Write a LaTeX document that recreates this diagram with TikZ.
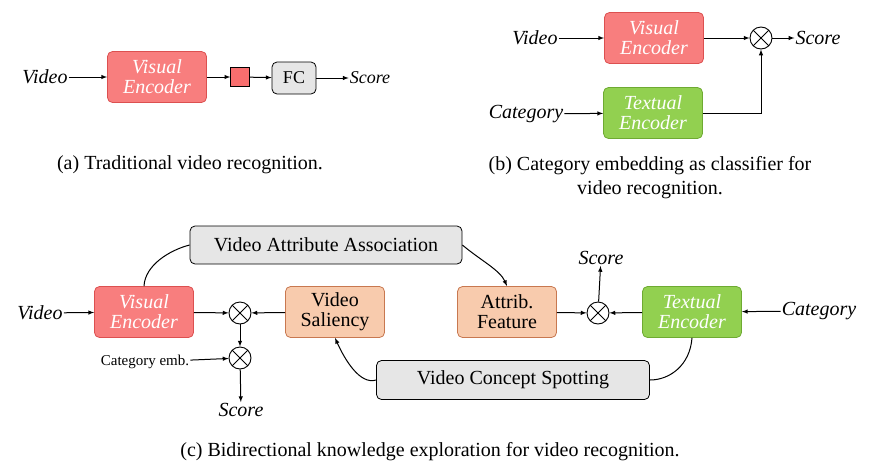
\documentclass[tikz,border=0pt]{standalone}
\usepackage{fontspec}
\setmainfont{Liberation Serif}
\begin{document}
\begin{tikzpicture}[x=1pt,y=-1pt,>=latex,
  box/.style={draw,rounded corners=5pt,line width=0.8pt,minimum width=99pt,minimum height=51pt,align=center,inner sep=1pt,font=\fontsize{20}{20}\selectfont\itshape},
  red/.style={box,fill={rgb,255:red,248;green,126;blue,126},draw={rgb,255:red,220;green,80;blue,80},text=white},
  grn/.style={box,fill={rgb,255:red,146;green,208;blue,80},draw={rgb,255:red,110;green,170;blue,50},text=white},
  org/.style={box,fill={rgb,255:red,248;green,203;blue,173},draw={rgb,255:red,200;green,120;blue,80},font=\fontsize{20}{20}\selectfont},
  gry/.style={draw,rounded corners=5pt,line width=0.8pt,fill={rgb,255:red,230;green,230;blue,230},font=\fontsize{20}{20}\selectfont,align=center},
  ot/.style={circle,draw,line width=0.9pt,minimum size=22pt,inner sep=0pt,path picture={\draw[line width=0.9pt] (path picture bounding box.north west)--(path picture bounding box.south east) (path picture bounding box.north east)--(path picture bounding box.south west);}},
  it/.style={font=\fontsize{20}{20}\selectfont\itshape,inner sep=1pt},
  captxt/.style={font=\fontsize{20}{24}\selectfont,align=center},
  ar/.style={->,line width=1pt}]
\useasboundingbox (0,0) rectangle (886,469);
% (a)
\node[it] (av) at (45,77) {Video};
\node[red] (ae) at (157,77) {Visual\\Encoder};
\node[draw,fill={rgb,255:red,248;green,110;blue,110},minimum size=19pt,inner sep=0pt] (asq) at (240,77) {};
\node[gry,minimum width=44pt,minimum height=32pt,inner sep=0pt,font=\fontsize{18}{18}\selectfont] (afc) at (294,78) {FC};
\node[it,font=\fontsize{18}{18}\selectfont\itshape] (asc) at (370,78) {Score};
\draw[ar] (av)--(ae); \draw[ar] (ae)--(asq); \draw[ar] (asq)--(afc); \draw[ar] (afc)--(asc);
\node[captxt] at (190,165) {(a) Traditional video recognition.};
% (b)
\node[it] (bv) at (535,38) {Video};
\node[red] (be) at (654,38) {Visual\\Encoder};
\node[ot] (bo) at (761,38) {};
\node[it] (bs) at (818,38) {Score};
\node[it] (bc) at (526,114) {Category};
\node[grn] (bt) at (653,113) {Textual\\Encoder};
\coordinate (bk) at (761,113);
\draw[ar] (bv)--(be); \draw[ar] (be)--(bo); \draw[ar] (bo)--(bs); \draw[ar] (bc)--(bt);
\draw[ar] (bt.east)--(bk)--(bo);
\node[captxt] at (650,178) {(b) Category embedding as classifier for\\video recognition.};
% (c)
\node[gry,minimum width=272pt,minimum height=38pt] (vaa) at (326,245) {Video Attribute Association};
\node[gry,minimum width=273pt,minimum height=39pt] (vcs) at (513,380) {Video Concept Spotting};
\node[it] (cv) at (40,313) {Video};
\node[red] (ce) at (144,312) {Visual\\Encoder};
\node[ot] (o1) at (240,313) {};
\node[ot] (o2) at (240,358) {};
\node[org] (sal) at (335,312) {Video\\Saliency};
\node[org] (att) at (507,312) {Attrib.\\Feature};
\node[ot] (o3) at (598,313) {};
\node[grn] (ct) at (692,312) {Textual\\Encoder};
\node[it] (cc) at (819,311) {Category};
\node[it] (s3) at (601,258) {Score};
\node[it] (s2) at (241,410) {Score};
\node[font=\fontsize{15}{15}\selectfont,inner sep=1pt] (emb) at (145,362) {Category emb.};
\draw[ar] (cv)--(ce); \draw[ar] (ce)--(o1); \draw[ar] (sal)--(o1); \draw[ar] (o1)--(o2);
\draw[ar] (emb)--(o2); \draw[ar] (o2)--(s2);
\draw[ar] (att)--(o3); \draw[ar] (ct)--(o3); \draw[ar] (o3)--(s3); \draw[ar] (cc)--(ct);
\draw[line width=1pt] (ce.north) .. controls (145,265) and (170,250) .. (vaa.west);
\draw[ar] (vaa.east) .. controls (480,260) and (500,270) .. (att.north);
\draw[line width=1pt] (ct.south) .. controls (690,365) and (670,380) .. (vcs.east);
\draw[ar] (vcs.west) .. controls (360,385) and (345,360) .. (sal.south);
\node[captxt] at (430,452) {(c) Bidirectional knowledge exploration for video recognition.};
\end{tikzpicture}
\end{document}
